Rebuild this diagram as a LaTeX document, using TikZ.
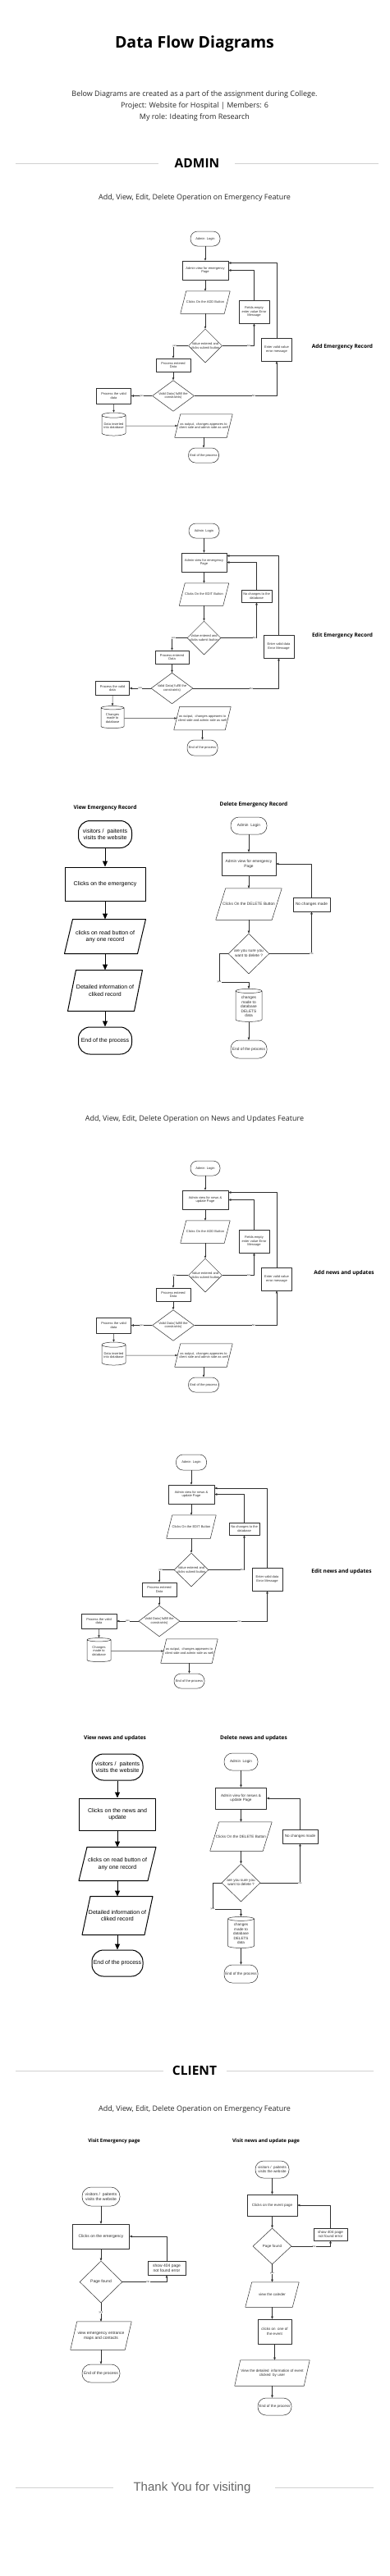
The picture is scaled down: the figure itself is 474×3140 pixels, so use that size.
\documentclass[tikz,border=0pt]{standalone}
\usepackage{fontspec}
\setmainfont{Open Sans}
\newfontfamily\chartfont{Liberation Sans}
\usetikzlibrary{shapes.geometric,arrows.meta,calc}
\tikzset{
  wh/.style 2 args={minimum width=#1pt,minimum height=#2pt},
  term/.style={draw,rectangle,rounded corners=#1,inner sep=0.3pt,align=center},
  term/.default=8.5pt,
  box/.style={draw,rectangle,inner sep=0.3pt,align=center},
  io/.style={rectangle,inner sep=0.3pt,align=center,
    append after command={\pgfextra{\draw ($(\tikzlastnode.north west)+(#1,0)$) -- (\tikzlastnode.north east)
      -- ($(\tikzlastnode.south east)+(-#1,0)$) -- (\tikzlastnode.south west) -- cycle;}}},
  io/.default=7,
  dec/.style={draw,diamond,inner sep=-1.5pt,align=center},
  db/.style={draw,cylinder,shape border rotate=90,aspect=0.25,inner sep=0.3pt,align=center},
  yn/.style={fill=white,inner sep=0.2pt,font=\chartfont\fontsize{3}{3}\selectfont},
  rule/.style={draw=black!18,line width=0.8pt},
  chart/.style 2 args={font=\chartfont\fontsize{#1}{#2}\selectfont,line width=0.5pt,color=black!82},
  charttitle/.style={font=\fontsize{6.5}{8}\selectfont\bfseries},
  section/.style={font=\fontsize{9}{11}\selectfont,text=black!85},
  heading/.style={font=\fontsize{15.5}{18}\selectfont\bfseries}
}
\begin{document}
\begin{tikzpicture}[x=1pt,y=-1pt,line join=round]
\fill[white] (0,0) rectangle (474,3140);
\useasboundingbox (0,0) rectangle (474,3140);
\node[font=\fontsize{19.5}{24}\selectfont\bfseries] (title) at (237,53) {Data Flow Diagrams};
\node[align=center,font=\fontsize{9}{14}\selectfont,text=black!85] (intro) at (237,129) {Below Diagrams are created as a part of the assignment during College.\\Project: Website for Hospital | Members: 6\\My role: Ideating from Research};
\node[heading] (admin) at (240,199) {ADMIN};
\draw[rule] (19,199)--(193,199) (286,199)--(461,199);
\node[section] (emsec) at (237,241) {Add, View, Edit, Delete Operation on Emergency Feature};
\node[charttitle] (addem) at (417,423) {Add Emergency Record};
\node[charttitle] (editem) at (417,775) {Edit Emergency Record};
\node[charttitle] (viewem) at (128,985) {View Emergency Record};
\node[charttitle] (delem) at (309,981) {Delete Emergency Record};
\node[section] (newssec) at (237,1364) {Add, View, Edit, Delete Operation on News and Updates Feature};
\node[charttitle] (addnews) at (419,1552) {Add news and updates};
\node[charttitle] (editnews) at (416,1916) {Edit news and updates};
\node[charttitle] (viewnews) at (140,2119) {View news and updates};
\node[charttitle] (delnews) at (309,2119) {Delete news and updates};
\node[heading] (client) at (237,2524) {CLIENT};
\draw[rule] (19,2524)--(199,2524) (276,2524)--(455,2524);
\node[section] (clientsec) at (237,2571) {Add, View, Edit, Delete Operation on Emergency Feature};
\node[charttitle,font=\fontsize{6}{7}\selectfont\bfseries] (visitem) at (139,2610) {Visit Emergency page};
\node[charttitle,font=\fontsize{6}{7}\selectfont\bfseries] (visitnews) at (324,2610) {Visit news and update page};
\node[font=\chartfont\fontsize{15}{18}\selectfont,text=black!60] (thanks) at (234,3033) {Thank You for visiting};
\draw[rule] (19,3032)--(138,3032) (335,3032)--(455,3032);

\begin{scope}[chart={4}{4.7},>={Triangle[length=3pt,width=2.4pt]}]
\node[term,wh={36}{18}] (a1) at (250,291) {Admin\ \ Login};
\node[box,wh={56}{23}] (a2) at (250,329.5) {Admin view for emergency\\Page};
\node[io,wh={60}{27}] (a3) at (250,368.5) {Clicks On the ADD Button};
\node[dec,wh={41}{41}] (a4) at (250,421.5) {Value entered and\\clicks submit button};
\node[box,wh={37}{28}] (a5) at (309.5,380) {Fields empty\\enter value Error\\Message};
\node[box,wh={37}{28}] (a6) at (337,426) {Enter valid value\\error message};
\node[box,wh={42}{16}] (a7) at (211,445) {Process entered\\Data};
\node[dec,wh={51}{37}] (a8) at (211,482.5) {Valid Data( fulfill the\\constraints)};
\node[box,wh={42}{19}] (a9) at (138.5,482.5) {Process the valid\\data};
\node[db,wh={29}{28}] (a10) at (138.5,519) {Data inserted\\into database};
\node[io,wh={70}{28}] (a11) at (248,519) {as output,\ \ changes appeares to\\client side and admin side as well};
\node[term,wh={37}{18}] (a12) at (248,555) {End of the process};
\draw[->] (a1)--(a2);
\draw[->] (a2)--(a3);
\draw[->] (a3)--(a4);
\draw[->] (a4.west) -| node[yn,pos=0.45]{yes} (a7);
\draw[->] (a4.east) -| node[yn,pos=0.42]{No} (a5);
\draw[->] (a5.north) |- (a2.east);
\draw[->] (a6.north) |- ($(a2.east)+(0,-9)$);
\draw[->] (a7)--(a8);
\draw[->] (a8)--node[yn]{yes}(a9);
\draw[->] (a8.east) -| node[yn,pos=0.36]{No} (a6);
\draw[->] (a9)--(a10);
\draw[->] (a10)--($(a11.west)+(3.5,0)$);
\draw[->] (a11)--(a12);
\end{scope}

\begin{scope}[chart={4}{4.7},>={Triangle[length=3pt,width=2.4pt]}]
\node[term,wh={37}{18}] (b1) at (248.5,647) {Admin\ \ Login};
\node[box,wh={55}{23}] (b2) at (248.5,685.5) {Admin view for emergency\\Page};
\node[io,wh={60}{27}] (b3) at (248.5,724.5) {Clicks On the EDIT Button};
\node[dec,wh={41}{41}] (b4) at (248.5,777.5) {Value entered and\\clicks submit button};
\node[box,wh={37}{15}] (b5) at (312.5,726.5) {No changes to the\\database};
\node[box,wh={37}{28}] (b6) at (339.5,788) {Enter valid data\\Error Message};
\node[box,wh={41}{16}] (b7) at (209.5,801) {Process entered\\Data};
\node[dec,wh={51}{36}] (b8) at (209.5,839) {Valid Data( fulfill the\\constraints)};
\node[box,wh={41}{17}] (b9) at (137,839) {Process the valid\\data};
\node[db,wh={28}{27}] (b10) at (137,875.5) {Changes\\made to\\database};
\node[io,wh={69}{28}] (b11) at (246.5,875.5) {as output,\ \ changes appeares to\\client side and admin side as well};
\node[term,wh={37}{19}] (b12) at (246.5,911.5) {End of the process};
\draw[->] (b1)--(b2);
\draw[->] (b2)--(b3);
\draw[->] (b3)--(b4);
\draw[->] (b4.west) -| node[yn,pos=0.45]{yes} (b7);
\draw[->] (b4.east) -| node[yn,pos=0.47]{No} (b5);
\draw[->] (b5.north) |- (b2.east);
\draw[->] (b6.north) |- ($(b2.east)+(0,-8)$);
\draw[->] (b7)--(b8);
\draw[->] (b8)--node[yn]{yes}(b9);
\draw[->] (b8.east) -| node[yn,pos=0.34]{No} (b6);
\draw[->] (b9)--(b10);
\draw[->] (b10)--($(b11.west)+(3.5,0)$);
\draw[->] (b11)--(b12);
\end{scope}

\begin{scope}[chart={7}{8.4},line width=1pt,color=black,>={Triangle[length=7pt,width=6pt]}]
\node[term=14pt,wh={65}{33}] (c1) at (128,1017) {visitors /\ \ paitents\\visits the website};
\node[box,wh={98}{41}] (c2) at (128,1077.5) {Clicks on the emergency};
\node[io=10,wh={98}{41}] (c3) at (128,1141.5) {clicks on read button of\\any one record};
\node[io=10,wh={90}{49}] (c4) at (128,1207.5) {Detailed information of\\cliked record};
\node[term=14pt,wh={65}{33}] (c5) at (128,1268.5) {End of the process};
\draw[->] (c1)--(c2);
\draw[->] (c2)--(c3);
\draw[->] (c3)--(c4);
\draw[->] (c4)--(c5);
\end{scope}

\begin{scope}[chart={4.8}{5.6},>={Triangle[length=3.2pt,width=2.6pt]}]
\node[term=10pt,wh={44}{21}] (d1) at (303,1006.5) {Admin\ \ Login};
\node[box,wh={66}{28}] (d2) at (303,1053) {Admin view for emergency\\Page};
\node[io=12,wh={80}{38}] (d3) at (303,1102) {Clicks On the DELETE Button};
\node[box,wh={45}{17}] (d4) at (379.5,1102.5) {No changes made};
\node[dec,wh={50}{49}] (d5) at (303,1162.5) {are you sure you\\want to delete ?};
\node[db,wh={32}{40}] (d6) at (303,1227) {changes\\made to\\database\\DELETS\\data};
\node[term=10pt,wh={44}{22}] (d7) at (303,1279) {End of the process};
\coordinate (dyes) at (267,1197);
\draw[->] (d1)--(d2);
\draw[->] (d2)--(d3);
\draw[->] (d3)--(d5);
\draw[->] (d5.east) -| node[yn,pos=0.5]{No} (d4);
\draw[->] (d4.north) |- (d2.east);
\draw[->] (d5.west) -| (dyes) node[yn]{yes} -| (d6);
\draw[->] (d6)--(d7);
\end{scope}

\begin{scope}[chart={4}{4.7},>={Triangle[length=3pt,width=2.4pt]}]
\node[term,wh={36}{18}] (e1) at (250,1424) {Admin\ \ Login};
\node[box,wh={56}{23}] (e2) at (250,1462.5) {Admin view for news \&\\update Page};
\node[io,wh={60}{27}] (e3) at (250,1501.5) {Clicks On the ADD Button};
\node[dec,wh={41}{41}] (e4) at (250,1554.5) {Value entered and\\clicks submit button};
\node[box,wh={37}{28}] (e5) at (309.5,1513) {Fields empty\\enter value Error\\Message};
\node[box,wh={37}{28}] (e6) at (337,1559) {Enter valid value\\error message};
\node[box,wh={42}{16}] (e7) at (211,1578) {Process entered\\Data};
\node[dec,wh={51}{37}] (e8) at (211,1615.5) {Valid Data( fulfill the\\constraints)};
\node[box,wh={42}{19}] (e9) at (138.5,1615.5) {Process the valid\\data};
\node[db,wh={29}{28}] (e10) at (138.5,1652) {Data inserted\\into database};
\node[io,wh={70}{28}] (e11) at (248,1652) {as output,\ \ changes appeares to\\client side and admin side as well};
\node[term,wh={37}{18}] (e12) at (248,1688) {End of the process};
\draw[->] (e1)--(e2);
\draw[->] (e2)--(e3);
\draw[->] (e3)--(e4);
\draw[->] (e4.west) -| node[yn,pos=0.45]{yes} (e7);
\draw[->] (e4.east) -| node[yn,pos=0.42]{No} (e5);
\draw[->] (e5.north) |- (e2.east);
\draw[->] (e6.north) |- ($(e2.east)+(0,-9)$);
\draw[->] (e7)--(e8);
\draw[->] (e8)--node[yn]{yes}(e9);
\draw[->] (e8.east) -| node[yn,pos=0.36]{No} (e6);
\draw[->] (e9)--(e10);
\draw[->] (e10)--($(e11.west)+(3.5,0)$);
\draw[->] (e11)--(e12);
\end{scope}

\begin{scope}[chart={4}{4.7},>={Triangle[length=3pt,width=2.4pt]}]
\node[term,wh={37}{19}] (f1) at (233,1782.5) {Admin\ \ Login};
\node[box,wh={56}{23}] (f2) at (233,1821.5) {Admin view for news \&\\update Page};
\node[io,wh={60}{28}] (f3) at (233,1861) {Clicks On the EDIT Button};
\node[dec,wh={42}{41}] (f4) at (233,1913.5) {Value entered and\\clicks submit button};
\node[box,wh={37}{15}] (f5) at (297.5,1863.5) {No changes to the\\database};
\node[box,wh={37}{28}] (f6) at (325.5,1925) {Enter valid data\\Error Message};
\node[box,wh={42}{17}] (f7) at (194,1937.5) {Process entered\\Data};
\node[dec,wh={50}{36}] (f8) at (194,1976) {Valid Data( fulfill the\\constraints)};
\node[box,wh={43}{18}] (f9) at (120.5,1976) {Process the valid\\data};
\node[db,wh={29}{29}] (f10) at (120.5,2012.5) {Changes\\made to\\database};
\node[io,wh={69}{29}] (f11) at (230.5,2012.5) {as output,\ \ changes appeares to\\client side and admin side as well};
\node[term,wh={37}{18}] (f12) at (230.5,2049) {End of the process};
\draw[->] (f1)--(f2);
\draw[->] (f2)--(f3);
\draw[->] (f3)--(f4);
\draw[->] (f4.west) -| node[yn,pos=0.45]{yes} (f7);
\draw[->] (f4.east) -| node[yn,pos=0.47]{No} (f5);
\draw[->] (f5.north) |- (f2.east);
\draw[->] (f6.north) |- ($(f2.east)+(0,-7.5)$);
\draw[->] (f7)--(f8);
\draw[->] (f8)--node[yn]{yes}(f9);
\draw[->] (f8.east) -| node[yn,pos=0.34]{No} (f6);
\draw[->] (f9)--(f10);
\draw[->] (f10)--($(f11.west)+(3.5,0)$);
\draw[->] (f11)--(f12);
\end{scope}

\begin{scope}[chart={7}{8.4},line width=1pt,color=black,>={Triangle[length=7pt,width=6pt]}]
\node[term=14pt,wh={62}{32}] (g1) at (143,2154) {visitors /\ \ paitents\\visits the website};
\node[box,wh={93}{39}] (g2) at (143,2211.5) {Clicks on the news and\\update};
\node[io=10,wh={93}{40}] (g3) at (143,2272) {clicks on read button of\\any one record};
\node[io=10,wh={85}{46}] (g4) at (143,2335) {Detailed information of\\cliked record};
\node[term=14pt,wh={62}{32}] (g5) at (143,2393) {End of the process};
\draw[->] (g1)--(g2);
\draw[->] (g2)--(g3);
\draw[->] (g3)--(g4);
\draw[->] (g4)--(g5);
\end{scope}

\begin{scope}[chart={4.6}{5.4},>={Triangle[length=3.2pt,width=2.6pt]}]
\node[term=10pt,wh={41}{21}] (h1) at (293.5,2147.5) {Admin\ \ Login};
\node[box,wh={62}{26}] (h2) at (293.5,2192) {Admin view for nesws \&\\update Page};
\node[io=11,wh={75}{35}] (h3) at (293.5,2238.5) {Clicks On the DELETE Button};
\node[box,wh={43}{17}] (h4) at (365.5,2238.5) {No changes made};
\node[dec,wh={47}{46}] (h5) at (293.5,2295) {are you sure you\\want to delete ?};
\node[db,wh={32}{38}] (h6) at (293.5,2357) {changes\\made to\\database\\DELETS\\data};
\node[term=10pt,wh={41}{22}] (h7) at (293.5,2406) {End of the process};
\coordinate (hyes) at (259,2327);
\draw[->] (h1)--(h2);
\draw[->] (h2)--(h3);
\draw[->] (h3)--(h5);
\draw[->] (h5.east) -| node[yn,pos=0.5]{No} (h4);
\draw[->] (h4.north) |- (h2.east);
\draw[->] (h5.west) -| (hyes) node[yn]{yes} -| (h6);
\draw[->] (h6)--(h7);
\end{scope}

\begin{scope}[chart={5}{5.9},>={Triangle[length=3.2pt,width=2.6pt]}]
\node[term=11pt,wh={46}{23}] (i1) at (123,2677.5) {visitors /\ \ paitents\\visits the website};
\node[box,wh={69}{30}] (i2) at (123,2726) {Clicks on the emergency};
\node[dec,wh={52}{51}] (i3) at (123,2781.5) {Page found};
\node[box,wh={46}{17}] (i4) at (203,2764.5) {show 404 page\\not found error};
\node[io=8,wh={74}{34}] (i5) at (123,2847) {view emergency entrance\\maps and contacts};
\node[term=10.5pt,wh={46}{22}] (i6) at (123,2893) {End of the process};
\draw[->] (i1)--(i2);
\draw[->] (i2)--(i3);
\draw[->] (i3.east) -| node[yn,pos=0.29]{No} (i4);
\draw[->] (i4.north) |- (i2.east);
\draw[->] (i3)--node[yn]{yes}(i5);
\draw[->] (i5)--(i6);
\end{scope}

\begin{scope}[chart={4.5}{5.3},>={Triangle[length=3.2pt,width=2.6pt]}]
\node[term=10pt,wh={41}{21}] (j1) at (331.5,2644.5) {visitors /\ \ paitents\\visits the website};
\node[box,wh={61}{26}] (j2) at (331.5,2688) {Clicks on the event page};
\node[dec,wh={47}{44}] (j3) at (331.5,2738) {Page found};
\node[box,wh={41}{15}] (j4) at (402.5,2723.5) {show 404 page\\not found error};
\node[io=8,wh={65}{30}] (j5) at (331.5,2797) {view the caleder};
\node[box,wh={41}{30}] (j6) at (334.5,2842) {clicks on\ \ one of\\the event};
\node[io=7,wh={91}{31}] (j7) at (331.5,2892.5) {View the detailed\ \ information of event\\clicked\ \ by user};
\node[term=10pt,wh={41}{21}] (j8) at (334.5,2933.5) {End of the process};
\draw[->] (j1)--(j2);
\draw[->] (j2)--(j3);
\draw[->] (j3.east) -| node[yn,pos=0.29]{No} (j4);
\draw[->] (j4.north) |- (j2.east);
\draw[->] (j3)--node[yn]{yes}(j5);
\draw[->] (j5.south)--(j5.south |- j6.north);
\draw[->] (j6)--(j6 |- j7.north);
\draw[->] (j7.south)--(j7.south |- j8.north);
\end{scope}
\end{tikzpicture}
\end{document}
